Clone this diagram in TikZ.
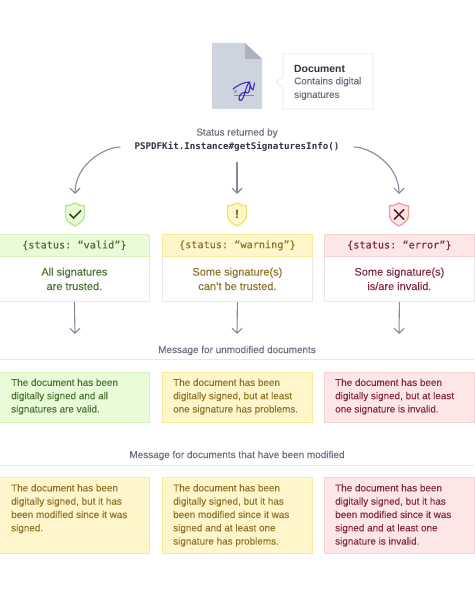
\documentclass[tikz,border=0pt]{standalone}
\usepackage{fontspec}
\setmainfont{Liberation Sans}[FakeBold=0.12, BoldFeatures={FakeBold=0}]
\setmonofont{DejaVu Sans Mono}[FakeBold=0.1, BoldFeatures={FakeBold=0}]
\usetikzlibrary{arrows.meta}
\definecolor{docfill}{HTML}{CDD3DF}
\definecolor{docfold}{HTML}{ACB2BD}
\definecolor{edgegray}{HTML}{E6E8EC}
\definecolor{arrowgray}{HTML}{858A98}
\definecolor{labelgray}{HTML}{6B7080}
\definecolor{titledark}{HTML}{2F3442}
\definecolor{inkblue}{HTML}{3B2FC0}
\definecolor{greenfill}{HTML}{EAFBD9}
\definecolor{greenline}{HTML}{D8F3B8}
\definecolor{greenedge}{HTML}{B4E88C}
\definecolor{greentext}{HTML}{4A7534}
\definecolor{greenmark}{HTML}{2C4D1D}
\definecolor{yellowfill}{HTML}{FFF6CC}
\definecolor{yellowline}{HTML}{FBEA95}
\definecolor{yellowedge}{HTML}{F6E25E}
\definecolor{yellowtext}{HTML}{8F7428}
\definecolor{yellowmark}{HTML}{644E14}
\definecolor{redfill}{HTML}{FDE6E6}
\definecolor{redline}{HTML}{F8D2D2}
\definecolor{rededge}{HTML}{F29C9C}
\definecolor{redtext}{HTML}{842A40}
\definecolor{redmark}{HTML}{6E1830}
\tikzset{
  cardbody/.style={draw=edgegray, fill=white, line width=0.8pt, anchor=north west, minimum width=150pt, minimum height=45pt, inner sep=0pt, align=center, font=\fontsize{11}{14.4}\selectfont},
  cardhead/.style={line width=0.8pt, anchor=north west, minimum width=150pt, minimum height=22pt, inner sep=0pt, font=\ttfamily\fontsize{10.2}{12}\selectfont},
  msgbox/.style={line width=0.8pt, anchor=north west, minimum width=150pt, inner sep=0pt},
  msgtext/.style={anchor=north west, inner sep=0pt, align=left, font=\fontsize{9.9}{13.3}\selectfont},
  caption/.style={text=labelgray, inner sep=0pt, font=\fontsize{9.95}{12}\selectfont},
  flow/.style={->, arrowgray, line width=1.1pt},
  shieldbase/.pic={
    \path[pic actions] (0,11.5) .. controls (3,9.5) and (6,8.8) .. (9.5,8.6)
      -- (9.5,-1) .. controls (9.5,-6) and (4,-9.5) .. (0,-11.5)
      .. controls (-4,-9.5) and (-9.5,-6) .. (-9.5,-1) -- (-9.5,8.6)
      .. controls (-6,8.8) and (-3,9.5) .. (0,11.5) -- cycle;
  }
}
\begin{document}
\begin{tikzpicture}[x=1pt, y=1pt, >={Straight Barb[length=5pt, width=10pt]}]
    \useasboundingbox (0,0) rectangle (474,-596);
    \fill[white] (0,0) rectangle (474,-596);

    % Document and its callout
    \fill[docfill] (212,-43) -- (245,-43) -- (262,-59) -- (262,-109) -- (212,-109) -- cycle;
    \fill[docfold] (245,-43) -- (262,-59) -- (245,-59) -- cycle;
    \draw[arrowgray, line width=0.6pt] (234,-95) -- (254,-95);
    \draw[arrowgray, line width=0.4pt] (234,-90) -- (237,-93) (234,-93) -- (237,-90);
    \draw[inkblue, line width=1.1pt, line join=round, line cap=round] (233,-89) .. controls (238,-85) and (244,-82) .. (250,-82)
      .. controls (246,-84) and (246,-92) .. (243,-98) .. controls (241,-103) and (237,-100) .. (240,-95)
      .. controls (242,-92) and (246,-92) .. (248,-93) .. controls (250,-91) and (250,-86) .. (250,-84)
      .. controls (251,-88) and (252,-90) .. (253,-90) -- (254.5,-83);
    \draw[edgegray, fill=white, line width=0.8pt] (283,-54) -- (373,-54) -- (373,-109) -- (283,-109) -- (283,-87) -- (276,-82) -- (283,-77) -- cycle;
    \node[anchor=west, inner sep=0pt, text=titledark, font=\fontsize{10.4}{12}\selectfont\bfseries] (doctitle) at (294,-68.5) {Document};
    \node[anchor=north west, inner sep=0pt, text=labelgray, align=left, font=\fontsize{9.8}{13.6}\selectfont] (doctext) at (294,-77) {Contains digital\\signatures};

    % Where the status comes from
    \node[caption] (returned) at (237,-133) {Status returned by};
    \node[inner sep=0pt, text=titledark, font=\ttfamily\bfseries\fontsize{9.2}{12}\selectfont] (call) at (237,-147) {PSPDFKit.Instance\#getSignaturesInfo()};
    \coordinate (validin) at (75,-194);
    \coordinate (warningin) at (237,-194);
    \coordinate (errorin) at (399,-194);
    \draw[flow, shorten <=14pt] (call.west) to[out=180, in=90] (validin);
    \draw[flow, shorten <=10pt] (call.south) -- (warningin);
    \draw[flow, shorten <=14pt] (call.east) to[out=0, in=90] (errorin);

    % Shields
    \pic[draw=greenedge, fill=greenfill, line width=1.3pt] at (75,-214.5) {shieldbase};
    \draw[greenmark, line width=1.5pt] (69.5,-214) -- (73.5,-218) -- (81,-210.5);
    \pic[draw=yellowedge, fill=yellowfill, line width=1.3pt] at (237,-214.5) {shieldbase};
    \node[inner sep=0pt, text=yellowmark, font=\fontsize{12}{12}\selectfont\bfseries] (warnmark) at (237,-214) {!};
    \pic[draw=rededge, fill=redfill, line width=1.3pt] at (399,-214.5) {shieldbase};
    \draw[redmark, line width=1.5pt] (394,-209.5) -- (404,-219.5) (404,-209.5) -- (394,-219.5);

    % Status cards
    \node[cardbody, text=greentext] (validbody) at (-1,-256) {All signatures\\are trusted.};
    \node[cardhead, draw=greenline, fill=greenfill, text=greentext] (validhead) at (-1,-234) {\{status: “valid”\}};
    \node[cardbody, text=yellowtext] (warningbody) at (162,-256) {Some signature(s)\\can't be trusted.};
    \node[cardhead, draw=yellowline, fill=yellowfill, text=yellowtext] (warninghead) at (162,-234) {\{status: “warning”\}};
    \node[cardbody, text=redtext] (errorbody) at (324,-256) {Some signature(s)\\is/are invalid.};
    \node[cardhead, draw=redline, fill=redfill, text=redtext] (errorhead) at (324,-234) {\{status: “error”\}};

    \coordinate (validout) at (75,-334);
    \coordinate (warningout) at (237,-334);
    \coordinate (errorout) at (399,-334);
    \draw[flow] (validbody.south) -- (validout);
    \draw[flow] (warningbody.south) -- (warningout);
    \draw[flow] (errorbody.south) -- (errorout);

    % Unmodified documents
    \node[caption] (plainlabel) at (237,-350.5) {Message for unmodified documents};
    \draw[edgegray, line width=0.8pt] (0,-359.5) -- (474,-359.5);
    \node[msgbox, draw=greenline, fill=greenfill, minimum height=50pt] (plaingreen) at (-1,-372) {};
    \node[msgbox, draw=yellowline, fill=yellowfill, minimum height=50pt] (plainyellow) at (162,-372) {};
    \node[msgbox, draw=redline, fill=redfill, minimum height=50pt] (plainred) at (324,-372) {};
    \node[msgtext, text=greentext] (plaingreentext) at (11,-378.5) {The document has been\\digitally signed and all\\signatures are valid.};
    \node[msgtext, text=yellowtext] (plainyellowtext) at (173,-378.5) {The document has been\\digitally signed, but at least\\one signature has problems.};
    \node[msgtext, text=redtext] (plainredtext) at (335,-378.5) {The document has been\\digitally signed, but at least\\one signature is invalid.};

    % Modified documents
    \node[caption] (changedlabel) at (237,-455.5) {Message for documents that have been modified};
    \draw[edgegray, line width=0.8pt] (0,-465) -- (474,-465);
    \node[msgbox, draw=yellowline, fill=yellowfill, minimum height=76pt] (changedfirst) at (-1,-477) {};
    \node[msgbox, draw=yellowline, fill=yellowfill, minimum height=76pt] (changedyellow) at (162,-477) {};
    \node[msgbox, draw=redline, fill=redfill, minimum height=76pt] (changedred) at (324,-477) {};
    \node[msgtext, text=yellowtext] (changedfirsttext) at (11,-484) {The document has been\\digitally signed, but it has\\been modified since it was\\signed.};
    \node[msgtext, text=yellowtext] (changedyellowtext) at (173,-484) {The document has been\\digitally signed, but it has\\been modified since it was\\signed and at least one\\signature has problems.};
    \node[msgtext, text=redtext] (changedredtext) at (335,-484) {The document has been\\digitally signed, but it has\\been modified since it was\\signed and at least one\\signature is invalid.};
\end{tikzpicture}
\end{document}
